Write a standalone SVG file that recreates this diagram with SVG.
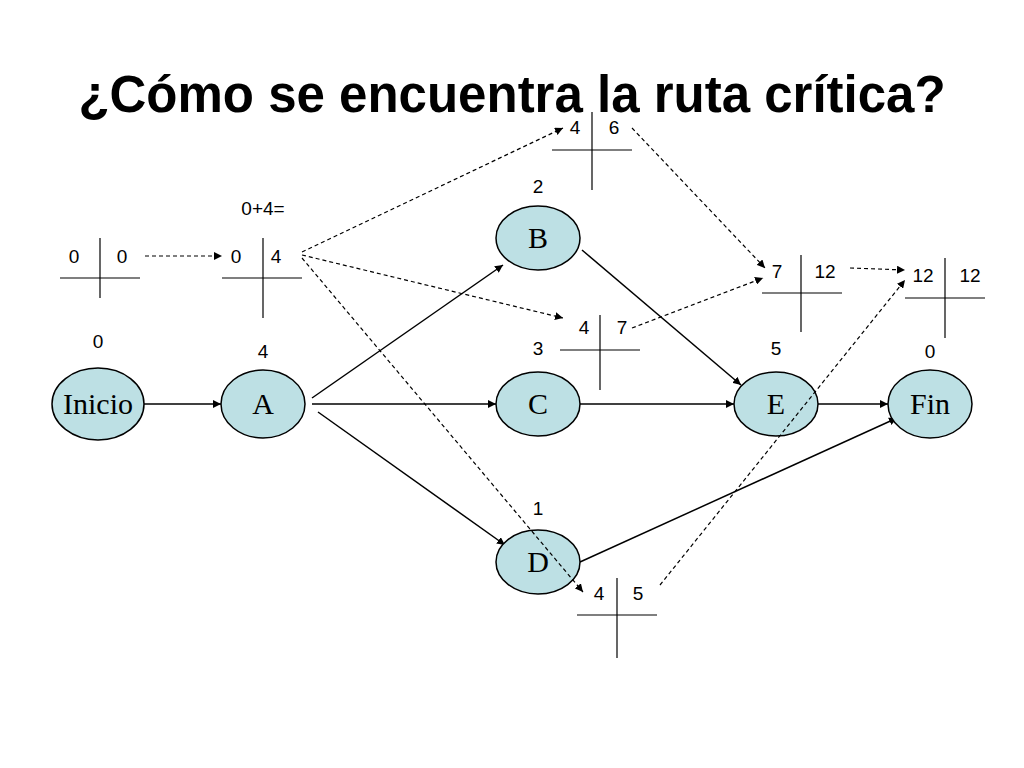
<svg xmlns="http://www.w3.org/2000/svg" width="1024" height="768" viewBox="0 0 1024 768">
<style>
.n{fill:#bde0e4;stroke:#000;stroke-width:1.5}
.nt{font-family:"Liberation Serif",serif;font-size:30px;text-anchor:middle}
.t{font-family:"Liberation Sans",sans-serif;font-size:19px;text-anchor:middle}
.s{stroke:#000;stroke-width:1.5;fill:none;marker-end:url(#a)}
.d{stroke:#000;stroke-width:1.2;fill:none;stroke-dasharray:4,3;marker-end:url(#a)}
.x{stroke:#000;stroke-width:1.2}
</style>
<defs><marker id="a" viewBox="0 0 10 10" refX="10" refY="5" markerWidth="8" markerHeight="8" orient="auto" markerUnits="userSpaceOnUse"><path d="M0,0L10,5L0,10z"/></marker></defs>
<rect width="1024" height="768" fill="#fff"/>
<text x="512" y="112" font-family="Liberation Sans,sans-serif" font-size="51" font-weight="bold" text-anchor="middle">¿Cómo se encuentra la ruta crítica?</text>
<g id="connectors">
<line class="s" x1="144" y1="404" x2="221" y2="404"/>
<line class="s" x1="312" y1="398" x2="503" y2="265"/>
<line class="s" x1="312" y1="404" x2="496" y2="404"/>
<line class="s" x1="318" y1="412" x2="505" y2="545"/>
<line class="s" x1="582" y1="250" x2="741" y2="385"/>
<line class="s" x1="580" y1="404" x2="734" y2="404"/>
<line class="s" x1="818" y1="404" x2="888" y2="404"/>
<line class="s" x1="580" y1="562" x2="897" y2="418"/>
</g>
<g id="Inicio"><ellipse class="n" cx="98" cy="404" rx="46" ry="36"/><text class="nt" x="98" y="414">Inicio</text><text class="t" x="98" y="348">0</text></g>
<g id="A"><ellipse class="n" cx="263" cy="404" rx="42" ry="34"/><text class="nt" x="263" y="414">A</text><text class="t" x="263" y="358">4</text></g>
<g id="B"><ellipse class="n" cx="538" cy="238" rx="42" ry="32"/><text class="nt" x="538" y="248">B</text><text class="t" x="538" y="193">2</text></g>
<g id="C"><ellipse class="n" cx="538" cy="404" rx="42" ry="32"/><text class="nt" x="538" y="414">C</text><text class="t" x="538" y="355">3</text></g>
<g id="D"><ellipse class="n" cx="538" cy="562" rx="42" ry="32"/><text class="nt" x="538" y="572">D</text><text class="t" x="538" y="515">1</text></g>
<g id="E"><ellipse class="n" cx="776" cy="404" rx="42" ry="32"/><text class="nt" x="776" y="414">E</text><text class="t" x="776" y="355">5</text></g>
<g id="Fin"><ellipse class="n" cx="930" cy="404" rx="42" ry="34"/><text class="nt" x="930" y="414">Fin</text><text class="t" x="930" y="358">0</text></g>
<g id="dashed-connectors">
<line class="d" x1="145" y1="256" x2="222" y2="256"/>
<line class="d" x1="302" y1="252" x2="563" y2="128"/>
<line class="d" x1="302" y1="255" x2="563" y2="318"/>
<line class="d" x1="302" y1="258" x2="583" y2="592"/>
<line class="d" x1="632" y1="128" x2="765" y2="268"/>
<line class="d" x1="632" y1="328" x2="763" y2="278"/>
<line class="d" x1="660" y1="585" x2="905" y2="280"/>
<line class="d" x1="850" y1="268" x2="905" y2="270"/>
</g>
<g id="tables">
<line class="x" x1="100" y1="238" x2="100" y2="298"/><line class="x" x1="60" y1="278" x2="140" y2="278"/>
<text class="t" x="74" y="263">0</text><text class="t" x="122" y="263">0</text>
<line class="x" x1="263" y1="238" x2="263" y2="318"/><line class="x" x1="222" y1="278" x2="302" y2="278"/>
<text class="t" x="236" y="263">0</text><text class="t" x="276" y="263">4</text><text class="t" x="263" y="215">0+4=</text>
<line class="x" x1="592" y1="112" x2="592" y2="190"/><line class="x" x1="552" y1="150" x2="632" y2="150"/>
<text class="t" x="575" y="134">4</text><text class="t" x="614" y="134">6</text>
<line class="x" x1="600" y1="315" x2="600" y2="390"/><line class="x" x1="560" y1="350" x2="640" y2="350"/>
<text class="t" x="584" y="334">4</text><text class="t" x="622" y="334">7</text>
<line class="x" x1="801" y1="255" x2="801" y2="332"/><line class="x" x1="762" y1="293" x2="842" y2="293"/>
<text class="t" x="777" y="278">7</text><text class="t" x="825" y="278">12</text>
<line class="x" x1="945" y1="258" x2="945" y2="338"/><line class="x" x1="905" y1="298" x2="985" y2="298"/>
<text class="t" x="923" y="282">12</text><text class="t" x="970" y="282">12</text>
<line class="x" x1="617" y1="578" x2="617" y2="658"/><line class="x" x1="577" y1="615" x2="657" y2="615"/>
<text class="t" x="599" y="600">4</text><text class="t" x="638" y="600">5</text>
</g>
</svg>
